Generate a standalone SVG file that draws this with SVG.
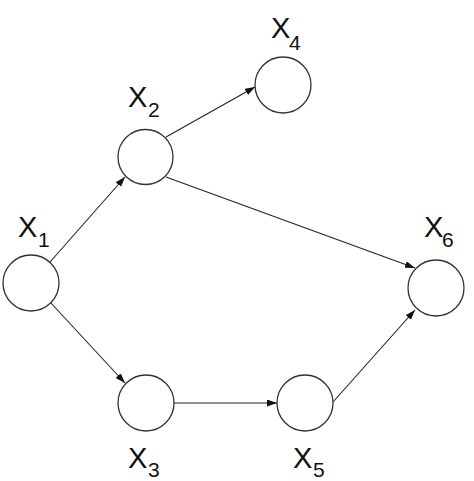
<svg xmlns="http://www.w3.org/2000/svg" width="474" height="481" viewBox="0 0 474 481">
<style>
.node{fill:#fff;stroke:#333;stroke-width:1.3}
.edge{stroke:#222;stroke-width:1.1;fill:none;marker-end:url(#arr)}
.lbl{font-family:"Liberation Sans",Arial,sans-serif;font-size:29px;fill:#111}
.sub{font-size:21px}
</style>
<defs>
<marker id="arr" markerUnits="userSpaceOnUse" markerWidth="11" markerHeight="8" refX="10" refY="3.5" orient="auto">
<path d="M0,0 L10,3.5 L0,7 z" fill="#111"/>
</marker>
</defs>
<rect width="474" height="481" fill="#fff"/>
<g id="connectors">
<line class="edge" x1="50" y1="262" x2="125" y2="177"/>
<line class="edge" x1="50" y1="302" x2="125" y2="383"/>
<line class="edge" x1="166" y1="137" x2="255" y2="87"/>
<line class="edge" x1="166" y1="177" x2="415" y2="268"/>
<line class="edge" x1="174" y1="403" x2="277" y2="403"/>
<line class="edge" x1="333" y1="402" x2="415" y2="310"/>
</g>
<g id="x1"><circle class="node" cx="31" cy="283" r="28"/><text class="lbl" x="18" y="237">X<tspan class="sub" x="38" y="247">1</tspan></text></g>
<g id="x2"><circle class="node" cx="145.5" cy="157" r="27.5"/><text class="lbl" x="128" y="107">X<tspan class="sub" x="148" y="117">2</tspan></text></g>
<g id="x3"><circle class="node" cx="146" cy="403" r="28"/><text class="lbl" x="128" y="468">X<tspan class="sub" x="148" y="477">3</tspan></text></g>
<g id="x4"><circle class="node" cx="283" cy="85" r="28"/><text class="lbl" x="271" y="38">X<tspan class="sub" x="289" y="50">4</tspan></text></g>
<g id="x5"><circle class="node" cx="305" cy="403" r="28"/><text class="lbl" x="293" y="468">X<tspan class="sub" x="313" y="477">5</tspan></text></g>
<g id="x6"><circle class="node" cx="436" cy="288" r="28"/><text class="lbl" x="424" y="237">X<tspan class="sub" x="442" y="247">6</tspan></text></g>
</svg>
